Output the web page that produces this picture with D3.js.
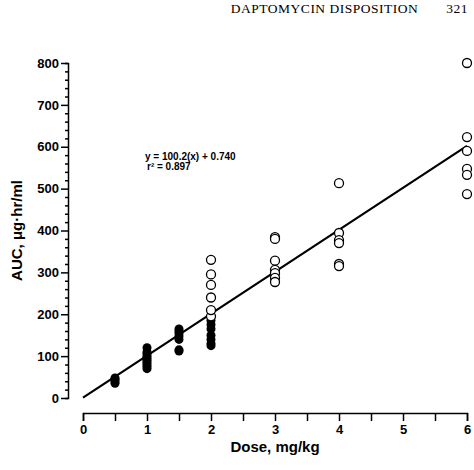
<!DOCTYPE html>
<html><head><meta charset="utf-8">
<script src="https://cdn.jsdelivr.net/npm/d3@7"></script>
<style>body{margin:0;background:#fff}text{font-family:Arial,"Liberation Sans",sans-serif;font-weight:bold}</style>
</head><body><div id="chart"></div>
<script>
// filled: lower-dose group, open: higher-dose group
var filledDose = [0.5,0.5,0.5,0.5, 1,1,1,1,1,1,1,1,1,1, 1.5,1.5,1.5,1.5,1.5,1.5,1.5, 2,2,2,2,2,2,2];
var filledAuc  = [35,40,45,48, 70,75,80,85,90,95,100,105,110,120, 112,115,140,148,155,160,165, 125,130,140,150,165,175,185];
var openDose = [2,2,2,2,2,2, 3,3,3,3,3,3,3, 4,4,4,4,4,4, 6,6,6,6,6,6];
var openAuc  = [195,210,240,270,295,330, 384,380,328,306,298,287,277, 513,394,377,370,320,315, 800,623,590,547,533,487];
var slope = 100.2, intercept = 0.740;
var xTicks = [0,1,2,3,4,5,6], yTicks = [0,100,200,300,400,500,600,700,800];

var svg = d3.select("#chart").append("svg").attr("width",474).attr("height",470);

var x = d3.scaleLinear().domain([0,6]).range([83,467]);
var y = d3.scaleLinear().domain([0,800]).range([398,63]);

// header
svg.append("text").attr("x",468).attr("y",13).attr("text-anchor","end")
  .style("font-family","'Liberation Serif',serif").style("font-weight","normal").style("font-size","13.5px")
  .style("letter-spacing","0.5px")
  .text("DAPTOMYCIN DISPOSITION\u2003\u2003321");

// Y axis
var yAxis = svg.append("g").attr("transform","translate(68,0)")
  .call(d3.axisLeft(y).tickValues(d3.range(0,801,20)).tickSize(3).tickFormat(""));
yAxis.selectAll(".tick line").filter(d => d % 100 === 0).attr("x2",-7);
svg.append("g").attr("transform","translate(68,0)")
  .call(d3.axisLeft(y).tickValues(yTicks).tickSize(0).tickPadding(9))
  .call(g => g.select(".domain").remove())
  .selectAll("text").style("font-size","13px");

// X axis
var xAxis = svg.append("g").attr("transform","translate(0,413)")
  .call(d3.axisBottom(x).tickValues(d3.range(0,6.01,0.5)).tickSize(8).tickFormat(""));
svg.append("g").attr("transform","translate(0,413)")
  .call(d3.axisBottom(x).tickValues(xTicks).tickSize(0).tickPadding(12).tickFormat(d3.format("d")))
  .call(g => g.select(".domain").remove())
  .selectAll("text").style("font-size","13px");
svg.selectAll(".domain, .tick line").attr("stroke","#000").attr("stroke-width",1.5);

// labels
svg.append("text").attr("x",x(3)).attr("y",452).attr("text-anchor","middle").style("font-size","15px").text("Dose, mg/kg");
svg.append("text").attr("transform","rotate(-90)").attr("x",-(y(400))).attr("y",22).attr("text-anchor","middle")
  .style("font-size","15px").text("AUC, \u03bcg\u00b7hr/ml");

// regression line
svg.append("line").attr("x1",x(0)).attr("y1",y(intercept)).attr("x2",x(6)).attr("y2",y(slope*6+intercept))
  .attr("stroke","#000").attr("stroke-width",2.2);

// points
svg.selectAll("circle.f").data(filledDose).enter().append("circle").attr("class","f")
  .attr("cx",d => x(d)).attr("cy",(d,i) => y(filledAuc[i])).attr("r",4.5).attr("fill","#000");
svg.selectAll("circle.o").data(openDose).enter().append("circle").attr("class","o")
  .attr("cx",d => x(d)).attr("cy",(d,i) => y(openAuc[i])).attr("r",4.5)
  .attr("fill","#fff").attr("stroke","#000").attr("stroke-width",1.3);

// equation
svg.append("text").attr("x",145).attr("y",160).style("font-size","10px").text("y = 100.2(x) + 0.740");
svg.append("text").attr("x",147).attr("y",170).style("font-size","10px").text("r\u00b2 = 0.897");
</script></body></html>
